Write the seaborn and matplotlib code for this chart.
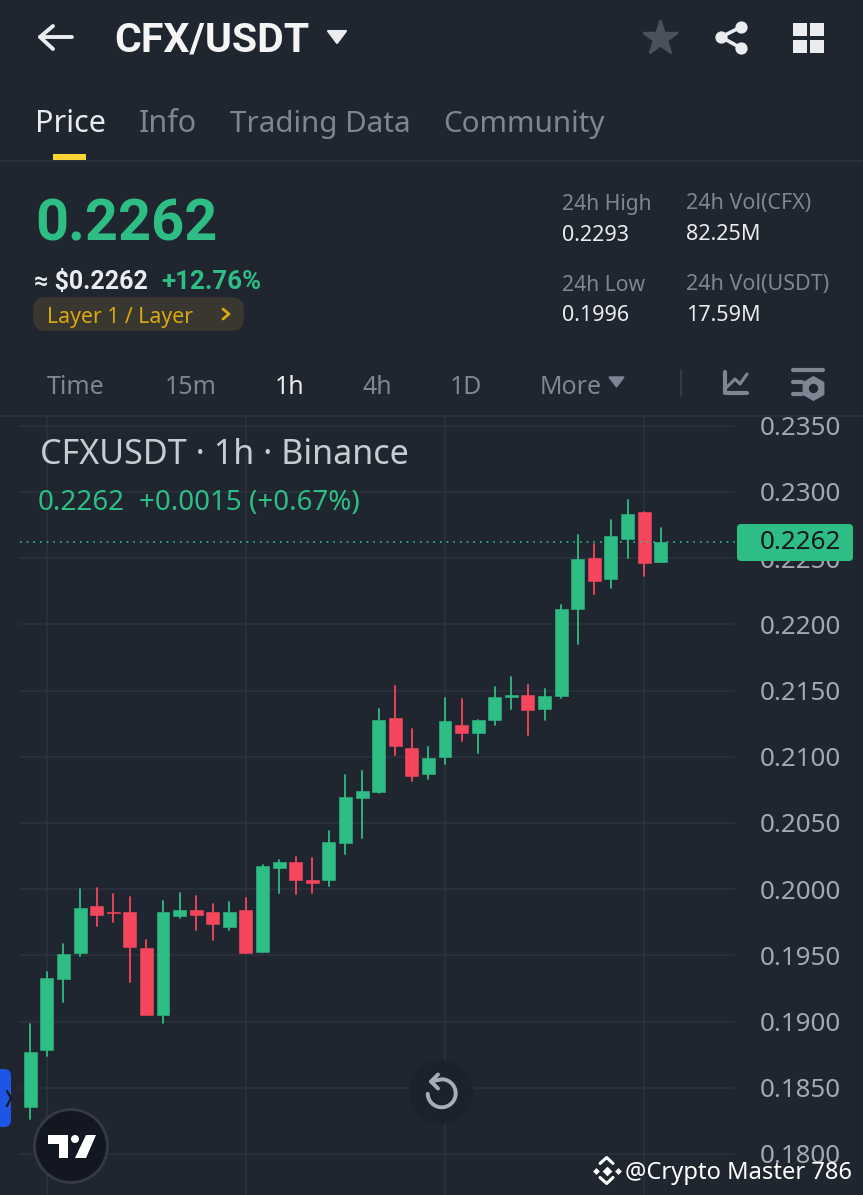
import numpy as np
import pandas as pd
import matplotlib.pyplot as plt
import seaborn as sns
from matplotlib.patches import Circle, FancyBboxPatch, Polygon, Rectangle

# candle values
opens = [0.18352, 0.18788, 0.19319, 0.19518, 0.19871, 0.19830, 0.19825, 0.19556, 0.19047, 0.19798,
         0.19840, 0.19825, 0.19717, 0.19840, 0.19526, 0.20158, 0.20203, 0.20072, 0.20067, 0.20349,
         0.20689, 0.20737, 0.21296, 0.21069, 0.20870, 0.20996, 0.21243, 0.21180, 0.21281, 0.21452,
         0.21470, 0.21361, 0.21459, 0.22114, 0.22502, 0.22343, 0.22643, 0.22852, 0.22469]
closes = [0.18768, 0.19329, 0.19508, 0.19861, 0.19808, 0.19820, 0.19566, 0.19052, 0.19825, 0.19840,
          0.19808, 0.19737, 0.19825, 0.19518, 0.20173, 0.20203, 0.20067, 0.20049, 0.20359, 0.20694,
          0.20739, 0.21281, 0.21082, 0.20858, 0.20994, 0.21273, 0.21180, 0.21281, 0.21452, 0.21467,
          0.21354, 0.21462, 0.22117, 0.22494, 0.22331, 0.22666, 0.22834, 0.22464, 0.22625]
highs = [0.18982, 0.19372, 0.19584, 0.20000, 0.20012, 0.19964, 0.19939, 0.19616, 0.19913, 0.19969,
         0.19951, 0.19888, 0.19901, 0.19931, 0.20180, 0.20221, 0.20241, 0.20233, 0.20437, 0.20860,
         0.20890, 0.21364, 0.21532, 0.21213, 0.21072, 0.21442, 0.21434, 0.21281, 0.21525, 0.21605,
         0.21543, 0.21512, 0.22147, 0.22678, 0.22605, 0.22791, 0.22937, 0.22852, 0.22726]
lows = [0.18262, 0.18740, 0.19150, 0.19495, 0.19725, 0.19755, 0.19302, 0.19052, 0.18992, 0.19785,
        0.19694, 0.19614, 0.19694, 0.19516, 0.19523, 0.19974, 0.19964, 0.19974, 0.20024, 0.20268,
        0.20387, 0.20724, 0.21014, 0.20817, 0.20832, 0.20943, 0.21120, 0.21031, 0.21243, 0.21359,
        0.21165, 0.21276, 0.21444, 0.21852, 0.22227, 0.22273, 0.22499, 0.22366, 0.22469]
last_price = 0.2262
price_ticks = [0.18, 0.185, 0.19, 0.195, 0.20, 0.205, 0.21, 0.215, 0.22, 0.225, 0.23, 0.235]
time_ticks = [1, 13, 25, 37]

BG = "#1f2630"
GRID = "#2b323d"
GREEN = "#2ebd85"
RED = "#f6465d"
GREY = "#7e8694"
WHITE = "#eaecef"
AXIS_TXT = "#a3a8b0"

sns.set_style("dark")
plt.rcParams['font.family'] = ['Noto Sans', 'DejaVu Sans']

df = pd.DataFrame({"candle": range(len(opens)), "open": opens, "close": closes, "high": highs, "low": lows})
df["direction"] = np.where(df["close"] >= df["open"], "up", "down")
df["bottom"] = df[["open", "close"]].min(axis=1)
df["body"] = (df["close"] - df["open"]).abs()
wicks = df.melt(id_vars=["candle", "direction"], value_vars=["low", "high"], value_name="price")

fig = plt.figure(figsize=(8.63, 11.95), dpi=100, facecolor=BG)
W, H = 863, 1195
ax = fig.add_axes([20 / W, 0, 715 / W, (H - 416) / H], facecolor=BG)

# wicks first, bodies on top
sns.lineplot(data=wicks, x="candle", y="price", units="candle", estimator=None, hue="direction",
             palette={"up": GREEN, "down": RED}, legend=False, lw=1.3, ax=ax, zorder=3)
for direction, colour in [("up", GREEN), ("down", RED)]:
    part = df[df["direction"] == direction]
    sns.barplot(x=part["candle"].values, y=part["body"].values, bottom=part["bottom"].values,
                native_scale=True, width=0.78, color=colour, saturation=1, errorbar=None, ax=ax,
                zorder=4, edgecolor=colour, linewidth=0.4)

ax.axhline(last_price, color=GREEN, lw=1.2, ls=(0, (1, 3)), zorder=5)
ax.set_xlim(-0.62, 42.48)
ax.set_ylim(0.17690, 0.23574)
ax.set_xticks(time_ticks)
ax.set_yticks(price_ticks)
ax.set_yticklabels([f"{p:.4f}" for p in price_ticks])
ax.set_xticklabels([])
ax.set_xlabel("")
ax.set_ylabel("")
ax.yaxis.tick_right()
ax.tick_params(axis="y", length=0, pad=18, labelsize=18.7, labelcolor=AXIS_TXT)
ax.tick_params(axis="x", length=0)
ax.grid(True, color=GRID, lw=1.2)
ax.set_axisbelow(True)
sns.despine(ax=ax, left=True, bottom=True, right=True, top=True)

# app interface on a pixel-sized overlay
ui = fig.add_axes([0, 0, 1, 1], facecolor="none", zorder=10)
ui.set_xlim(0, W)
ui.set_ylim(H, 0)
ui.axis("off")


def label(x, y, s, size, color=WHITE, weight="normal", ha="left", family=None):
    ui.text(x, y, s, fontsize=size, color=color, fontweight=weight, ha=ha, va="center",
            family=family or ['Noto Sans', 'DejaVu Sans'])


# top bar
ui.plot([40, 72], [37, 37], color=WHITE, lw=2.8, solid_capstyle="round")
ui.plot([53, 40, 53], [26, 37, 49], color=WHITE, lw=2.8, solid_capstyle="round", solid_joinstyle="round")
label(114, 40, "CFX/USDT", 29.5, "#f5f5f5", "bold", family="Roboto")
ui.add_patch(Polygon([(328, 31), (346, 31), (337, 43)], fc=WHITE, ec=WHITE, lw=1.5, joinstyle="round"))
ui.scatter([660], [38], marker="*", s=620, color="#4a505c", edgecolors="#4a505c", linewidths=2, joinstyle="round")
ui.plot([741, 721, 741], [27, 37, 48], color=WHITE, lw=2.6)
ui.scatter([741, 721, 741], [27, 37, 48], s=78, color=WHITE, linewidths=0)
for gx, gy in [(793, 23), (810, 23), (793, 40), (810, 40)]:
    ui.add_patch(Rectangle((gx, gy), 13.5, 12.5, color=WHITE, lw=0))

# tabs
label(35, 124, "Price", 22, WHITE)
label(139, 124, "Info", 22, GREY)
label(230, 124, "Trading Data", 21.3, GREY)
label(443, 124, "Community", 21.3, GREY)
ui.add_patch(Rectangle((53, 154), 33, 6, color="#fcd535", lw=0))
ui.plot([0, W], [161, 161], color=GRID, lw=1.2)

# price block
label(35, 225, "0.2262", 41.5, GREEN, "bold", family="Roboto")
label(34, 282, "≈ $0.2262", 18, WHITE, "bold", family="Roboto")
label(161, 282, "+12.76%", 18.6, GREEN, "bold", family="Roboto")
ui.add_patch(FancyBboxPatch((39, 303), 199, 22, boxstyle="round,pad=0,rounding_size=6", mutation_scale=1,
                            fc="#3a3630", ec="#3a3630", lw=8.5))
label(47, 317, "Layer 1 / Layer", 15.3, "#d9a80f")
ui.plot([223, 229, 223], [309, 314, 319], color="#d9a80f", lw=2)

# 24h stats
label(562, 204, "24h High", 15.2, GREY)
label(562, 235, "0.2293", 15.5, WHITE)
label(686, 203, "24h Vol(CFX)", 15.5, GREY)
label(686, 234, "82.25M", 15.5, WHITE)
label(562, 285, "24h Low", 15.2, GREY)
label(562, 315, "0.1996", 15.5, WHITE)
label(686, 284, "24h Vol(USDT)", 15.5, GREY)
label(686, 315, "17.59M", 15.5, WHITE)

# intervals
label(47, 387, "Time", 18, GREY)
label(165, 387, "15m", 18, GREY)
label(275, 387, "1h", 18, WHITE, "bold")
label(362, 387, "4h", 18, GREY)
label(450, 387, "1D", 18, GREY)
label(540, 387, "More", 18, GREY)
ui.add_patch(Polygon([(609, 377), (624, 377), (616.5, 387)], color=GREY))
ui.plot([681, 681], [370, 396], color="#3a414c", lw=1.2)
ui.plot([725, 725, 747], [372, 393, 393], color=GREY, lw=3)
ui.plot([727, 735, 740, 747], [387, 379, 384, 374], color=GREY, lw=2.2)
ui.plot([793, 823], [370, 370], color=GREY, lw=3)
ui.plot([793, 802], [382, 382], color=GREY, lw=3)
ui.plot([793, 802], [394, 394], color=GREY, lw=3)
ui.scatter([813], [388], marker="h", s=330, color=GREY, linewidths=0)
ui.scatter([813], [388], marker="o", s=45, color=BG, linewidths=0)
ui.plot([0, W], [416, 416], color=GRID, lw=1.2)

# chart legend
label(40, 455, "CFXUSDT · 1h · Binance", 24.5, "#c8ccd2")
label(38, 503, "0.2262", 20, GREEN)
label(139, 503, "+0.0015 (+0.67%)", 20, GREEN)

# last price tag
ui.add_patch(FancyBboxPatch((737, 524), 116, 37, boxstyle="round,pad=0,rounding_size=4", mutation_scale=1,
                            fc=GREEN, ec="none"))
label(800, 542, f"{last_price:.4f}", 18.7, "#15191f", ha="center")

# floating controls
ui.add_patch(FancyBboxPatch((-8, 1069), 19, 58, boxstyle="round,pad=0,rounding_size=7", mutation_scale=1,
                            fc="#1f55e6", ec="none"))
ui.plot([7, 11, 7], [1091, 1098, 1106], color="#15191f", lw=1.6)
ui.add_patch(Circle((71, 1146), 36.5, fc="#131722", ec="#363a45", lw=2))
ui.add_patch(Polygon([(48, 1135), (68, 1135), (68, 1158), (59, 1158), (59, 1144), (48, 1144)], color="white", lw=0))
ui.add_patch(Circle((75, 1139), 4, color="white", lw=0))
ui.add_patch(Polygon([(86, 1135), (96, 1135), (86, 1158), (75, 1158)], color="white", lw=0))
ui.add_patch(Circle((441, 1092), 32, fc="#1c222c", ec="none"))
theta = np.radians(np.linspace(-90, 178, 50))
ui.plot(441.7 + 14 * np.cos(theta), 1093.3 + 14 * np.sin(theta), color="#a9adb5", lw=2.8, solid_capstyle="round")
ui.plot([431, 441], [1081.5, 1079.5], color="#a9adb5", lw=2.8, solid_capstyle="round")
ui.plot([438, 431, 438], [1074.5, 1081.5, 1088.5], color="#a9adb5", lw=2.8,
        solid_capstyle="round", solid_joinstyle="round")

# watermark
ui.plot([600, 606.7, 613], [1163.5, 1157.5, 1163.5], color="white", lw=2.2)
ui.plot([600, 606.7, 613], [1177.5, 1183.5, 1177.5], color="white", lw=2.2)
ui.scatter([606.7], [1170.7], marker="D", s=24, color="white", linewidths=0)
ui.scatter([596, 617.5], [1170.7, 1170.7], marker="D", s=12, color="white", linewidths=0)
label(625, 1173, "@Crypto Master 786", 17.1, "white")

fig.savefig("out.png", dpi=100, facecolor=BG)
